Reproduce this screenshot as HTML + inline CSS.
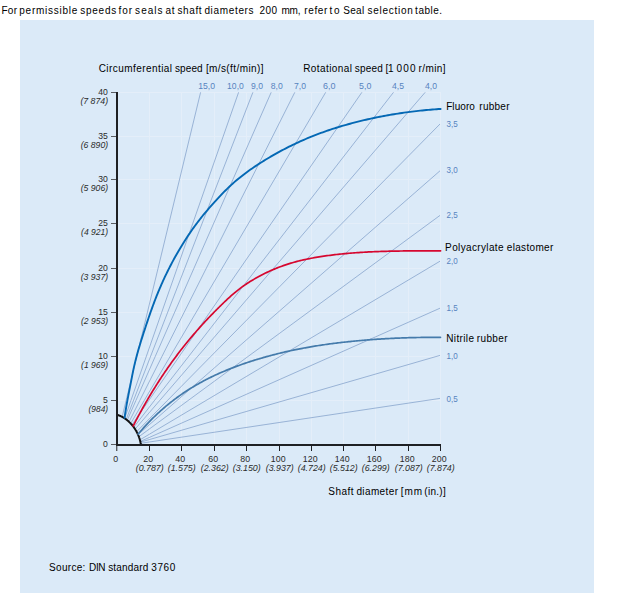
<!DOCTYPE html>
<html><head><meta charset="utf-8"><style>
html,body{margin:0;padding:0;background:#fff;}
body{width:624px;height:613px;overflow:hidden;position:relative;}
svg{position:absolute;left:0;top:0;display:block;}
text{font-family:"Liberation Sans",sans-serif;}
.ax text{font-size:9.6px;fill:#2a2a2a;}
.ax text.it{font-style:italic;font-size:9.6px;}
.rl text{font-size:9.6px;fill:#5783bf;}
.lb text{font-size:10px;fill:#000;}
.lb text.top{font-size:10px;}
</style></head><body>
<svg width="624" height="613" viewBox="0 0 624 613">
<rect x="20" y="20" width="574" height="573" fill="#dbeaf8"/>
<g fill="#e4eef9"><rect x="149" y="92" width="1" height="352"/><rect x="181" y="92" width="1" height="352"/><rect x="214" y="92" width="1" height="352"/><rect x="246" y="92" width="1" height="352"/><rect x="279" y="92" width="1" height="352"/><rect x="311" y="92" width="1" height="352"/><rect x="343" y="92" width="1" height="352"/><rect x="375" y="92" width="1" height="352"/><rect x="408" y="92" width="1" height="352"/><rect x="440" y="92" width="1" height="352"/><rect x="118" y="92" width="323" height="1"/><rect x="118" y="136" width="323" height="1"/><rect x="118" y="179" width="323" height="1"/><rect x="118" y="223" width="323" height="1"/><rect x="118" y="268" width="323" height="1"/><rect x="118" y="312" width="323" height="1"/><rect x="118" y="356" width="323" height="1"/><rect x="118" y="400" width="323" height="1"/></g>
<g stroke="#7494c3" stroke-width="0.65" fill="none"><line x1="122.15" y1="416.86" x2="200.60" y2="92.30"/><line x1="124.66" y1="418.36" x2="238.60" y2="92.30"/><line x1="126.17" y1="419.42" x2="252.90" y2="92.30"/><line x1="127.23" y1="420.25" x2="271.20" y2="92.30"/><line x1="129.07" y1="421.84" x2="294.80" y2="92.30"/><line x1="130.68" y1="423.46" x2="325.70" y2="92.30"/><line x1="131.95" y1="424.87" x2="361.90" y2="92.30"/><line x1="133.77" y1="427.18" x2="393.50" y2="92.30"/><line x1="135.08" y1="429.11" x2="425.20" y2="92.30"/><line x1="136.61" y1="431.72" x2="440.00" y2="124.00"/><line x1="138.02" y1="434.60" x2="440.00" y2="170.80"/><line x1="138.87" y1="436.73" x2="440.00" y2="215.40"/><line x1="139.88" y1="439.88" x2="440.00" y2="261.20"/><line x1="140.28" y1="441.47" x2="440.00" y2="308.20"/><line x1="140.43" y1="442.17" x2="440.00" y2="355.40"/><line x1="140.65" y1="443.30" x2="440.00" y2="398.40"/></g>
<path d="M117.18,414.79 L117.34,414.84 L117.50,414.89 L117.66,414.95 L117.81,415.00 L117.97,415.05 L118.13,415.11 L118.29,415.16 L118.44,415.22 L118.60,415.27 L118.76,415.33 L118.91,415.39 L119.07,415.45 L119.22,415.51 L119.38,415.57 L119.53,415.64 L119.69,415.70 L119.84,415.76 L119.99,415.83 L120.15,415.90 L120.30,415.96 L120.45,416.03 L120.60,416.10 L120.75,416.17 L120.90,416.24 L121.05,416.31 L121.20,416.38 L121.35,416.46 L121.50,416.53 L121.65,416.61 L121.80,416.68 L121.95,416.76 L122.10,416.84 L122.24,416.91 L122.39,416.99 L122.54,417.07 L122.68,417.15 L122.83,417.24 L122.97,417.32 L123.12,417.40 L123.26,417.48 L123.40,417.57 L123.55,417.66 L123.69,417.74 L123.83,417.83 L123.97,417.92 L124.12,418.01 L124.26,418.10 L124.40,418.19 L124.54,418.28 L124.68,418.37 L124.82,418.46 L124.96,418.56 L125.09,418.65 L125.23,418.74 L125.37,418.84 L125.51,418.94 L125.64,419.03 L125.78,419.13 L125.92,419.23 L126.05,419.33 L126.18,419.43 L126.32,419.53 L126.45,419.63 L126.59,419.73 L126.72,419.84 L126.85,419.94 L126.98,420.05 L127.11,420.15 L127.24,420.26 L127.38,420.36 L127.51,420.47 L127.63,420.58 L127.76,420.69 L127.89,420.79 L128.02,420.90 L128.15,421.01 L128.27,421.13 L128.40,421.24 L128.53,421.35 L128.65,421.46 L128.78,421.58 L128.90,421.69 L129.02,421.81 L129.15,421.92 L129.27,422.04 L129.39,422.15 L129.51,422.27 L129.64,422.39 L129.76,422.51 L129.88,422.63 L130.00,422.75 L130.12,422.87 L130.23,422.99 L130.35,423.11 L130.47,423.23 L130.59,423.35 L130.70,423.48 L130.82,423.60 L130.93,423.73 L131.05,423.85 L131.16,423.98 L131.28,424.10 L131.39,424.23 L131.50,424.36 L131.62,424.48 L131.73,424.61 L131.84,424.74 L131.95,424.87 L132.06,425.00 L132.17,425.13 L132.28,425.26 L132.38,425.39 L132.49,425.52 L132.60,425.66 L132.71,425.79 L132.81,425.92 L132.92,426.06 L133.02,426.19 L133.13,426.33 L133.23,426.46 L133.33,426.60 L133.43,426.73 L133.54,426.87 L133.64,427.01 L133.74,427.14 L133.84,427.28 L133.94,427.42 L134.04,427.56 L134.14,427.70 L134.23,427.84 L134.33,427.98 L134.43,428.12 L134.52,428.26 L134.62,428.40 L134.71,428.54 L134.81,428.69 L134.90,428.83 L134.99,428.97 L135.08,429.12 L135.18,429.26 L135.27,429.40 L135.36,429.55 L135.45,429.69 L135.54,429.84 L135.62,429.99 L135.71,430.13 L135.80,430.28 L135.89,430.42 L135.97,430.57 L136.06,430.72 L136.14,430.87 L136.23,431.02 L136.31,431.16 L136.39,431.31 L136.47,431.46 L136.56,431.61 L136.64,431.76 L136.72,431.91 L136.80,432.06 L136.87,432.21 L136.95,432.36 L137.03,432.52 L137.11,432.67 L137.18,432.82 L137.26,432.97 L137.33,433.12 L137.41,433.28 L137.48,433.43 L137.55,433.58 L137.63,433.74 L137.70,433.89 L137.77,434.05 L137.84,434.20 L137.91,434.36 L137.98,434.51 L138.04,434.67 L138.11,434.82 L138.18,434.98 L138.24,435.13 L138.31,435.29 L138.37,435.44 L138.44,435.60 L138.50,435.76 L138.56,435.91 L138.62,436.07 L138.69,436.23 L138.75,436.39 L138.81,436.54 L138.86,436.70 L138.92,436.86 L138.98,437.02 L139.04,437.18 L139.09,437.34 L139.15,437.50 L139.20,437.65 L139.26,437.81 L139.31,437.97 L139.36,438.13 L139.41,438.29 L139.46,438.45 L139.51,438.61 L139.56,438.77 L139.61,438.93 L139.66,439.09 L139.71,439.25 L139.75,439.41 L139.80,439.57 L139.85,439.73 L139.89,439.89 L139.93,440.06 L139.98,440.22 L140.02,440.38 L140.06,440.54 L140.10,440.70 L140.14,440.86 L140.18,441.02 L140.22,441.18 L140.25,441.35 L140.29,441.51 L140.33,441.67 L140.36,441.83 L140.40,441.99 L140.43,442.15 L140.46,442.32 L140.49,442.48 L140.53,442.64 L140.56,442.80 L140.59,442.96 L140.61,443.13 L140.64,443.29 L140.67,443.45 L140.70,443.61 L140.72,443.77 L140.75,443.94 L140.77,444.10 L140.79,444.26 L140.82,444.42 L140.84,444.58 L140.86,444.75" stroke="#111" stroke-width="2" fill="none"/>
<g fill="#5a5d62"><rect x="111" y="92" width="5" height="1"/><rect x="111" y="136" width="5" height="1"/><rect x="111" y="179" width="5" height="1"/><rect x="111" y="223" width="5" height="1"/><rect x="111" y="268" width="5" height="1"/><rect x="111" y="312" width="5" height="1"/><rect x="111" y="356" width="5" height="1"/><rect x="111" y="400" width="5" height="1"/><rect x="111" y="444" width="5" height="1"/><rect x="116" y="446" width="1.4" height="5"/></g>
<g fill="#1e2024"><rect x="149" y="446" width="1" height="5"/><rect x="181" y="446" width="1" height="5"/><rect x="214" y="446" width="1" height="5"/><rect x="246" y="446" width="1" height="5"/><rect x="279" y="446" width="1" height="5"/><rect x="311" y="446" width="1" height="5"/><rect x="343" y="446" width="1" height="5"/><rect x="375" y="446" width="1" height="5"/><rect x="408" y="446" width="1" height="5"/><rect x="440" y="446" width="1" height="5"/><rect x="116" y="92" width="2" height="354"/><rect x="116" y="444" width="325" height="2"/></g>
<path d="M124.57,417.79 L124.85,415.77 L125.15,413.75 L125.46,411.74 L125.78,409.73 L126.11,407.71 L126.46,405.70 L126.81,403.69 L127.18,401.69 L127.55,399.68 L127.92,397.67 L128.31,395.67 L128.69,393.66 L129.08,391.66 L129.47,389.65 L129.87,387.65 L130.26,385.64 L130.65,383.63 L131.04,381.63 L131.43,379.62 L131.82,377.61 L132.20,375.61 L132.59,373.60 L132.99,371.60 L133.41,369.60 L133.84,367.61 L134.29,365.62 L134.76,363.63 L135.24,361.65 L135.73,359.68 L136.24,357.70 L136.76,355.73 L137.30,353.77 L137.85,351.81 L138.40,349.85 L138.97,347.89 L139.55,345.94 L140.14,343.98 L140.73,342.03 L141.33,340.08 L141.94,338.14 L142.56,336.19 L143.18,334.25 L143.81,332.30 L144.44,330.36 L145.07,328.42 L145.71,326.48 L146.35,324.54 L147.00,322.60 L147.65,320.66 L148.31,318.72 L148.97,316.78 L149.64,314.85 L150.31,312.92 L150.99,310.99 L151.68,309.07 L152.38,307.14 L153.08,305.23 L153.79,303.31 L154.51,301.40 L155.24,299.49 L155.98,297.58 L156.73,295.69 L157.49,293.79 L158.26,291.90 L159.05,290.01 L159.84,288.14 L160.65,286.26 L161.46,284.39 L162.29,282.53 L163.13,280.67 L163.99,278.82 L164.85,276.97 L165.72,275.13 L166.61,273.29 L167.51,271.46 L168.42,269.64 L169.34,267.82 L170.27,266.00 L171.21,264.20 L172.17,262.39 L173.13,260.60 L174.11,258.81 L175.10,257.02 L176.10,255.24 L177.11,253.47 L178.13,251.70 L179.16,249.94 L180.21,248.18 L181.26,246.43 L182.33,244.69 L183.41,242.95 L184.49,241.22 L185.60,239.49 L186.71,237.78 L187.83,236.07 L188.97,234.37 L190.12,232.68 L191.28,231.00 L192.45,229.32 L193.63,227.66 L194.83,226.00 L196.04,224.36 L197.26,222.72 L198.50,221.09 L199.75,219.48 L201.01,217.87 L202.28,216.28 L203.57,214.70 L204.86,213.13 L206.18,211.57 L207.50,210.02 L208.84,208.49 L210.18,206.96 L211.54,205.43 L212.89,203.91 L214.26,202.40 L215.63,200.88 L217.00,199.37 L218.38,197.87 L219.77,196.37 L221.17,194.88 L222.58,193.40 L224.00,191.94 L225.44,190.49 L226.89,189.05 L228.35,187.63 L229.83,186.22 L231.33,184.84 L232.84,183.47 L234.37,182.13 L235.91,180.80 L237.47,179.49 L239.05,178.19 L240.64,176.92 L242.24,175.66 L243.86,174.41 L245.49,173.19 L247.13,171.97 L248.79,170.78 L250.45,169.59 L252.13,168.43 L253.81,167.27 L255.51,166.13 L257.21,165.00 L258.92,163.89 L260.65,162.79 L262.37,161.70 L264.11,160.62 L265.85,159.55 L267.60,158.50 L269.36,157.45 L271.12,156.42 L272.89,155.40 L274.66,154.39 L276.45,153.39 L278.23,152.40 L280.03,151.42 L281.82,150.46 L283.63,149.51 L285.44,148.57 L287.26,147.64 L289.08,146.72 L290.91,145.81 L292.74,144.92 L294.58,144.04 L296.43,143.17 L298.28,142.31 L300.13,141.46 L302.00,140.63 L303.86,139.81 L305.74,139.00 L307.61,138.20 L309.50,137.42 L311.39,136.65 L313.28,135.89 L315.18,135.14 L317.08,134.41 L318.99,133.68 L320.90,132.97 L322.82,132.28 L324.74,131.59 L326.67,130.92 L328.60,130.26 L330.54,129.60 L332.48,128.97 L334.42,128.34 L336.37,127.72 L338.32,127.12 L340.27,126.52 L342.23,125.94 L344.19,125.36 L346.15,124.80 L348.12,124.25 L350.09,123.71 L352.06,123.18 L354.03,122.65 L356.01,122.14 L357.99,121.64 L359.97,121.15 L361.95,120.66 L363.94,120.19 L365.93,119.72 L367.92,119.27 L369.91,118.82 L371.90,118.39 L373.90,117.96 L375.90,117.55 L377.90,117.14 L379.90,116.74 L381.90,116.35 L383.91,115.97 L385.91,115.60 L387.92,115.24 L389.93,114.89 L391.95,114.55 L393.96,114.21 L395.97,113.89 L397.99,113.57 L400.01,113.26 L402.03,112.96 L404.05,112.68 L406.07,112.39 L408.09,112.12 L410.12,111.86 L412.14,111.60 L414.17,111.36 L416.20,111.12 L418.23,110.89 L420.26,110.67 L422.29,110.46 L424.32,110.26 L426.35,110.06 L428.38,109.88 L430.42,109.70 L432.45,109.53 L434.49,109.37 L436.52,109.21 L438.56,109.07 L440.60,108.93" stroke="#0468b4" stroke-width="1.9" fill="none" stroke-linecap="round"/>
<path d="M133.22,425.91 L133.95,424.49 L134.69,423.06 L135.42,421.64 L136.17,420.22 L136.91,418.80 L137.66,417.38 L138.42,415.96 L139.18,414.55 L139.94,413.14 L140.71,411.73 L141.48,410.33 L142.25,408.92 L143.04,407.52 L143.82,406.13 L144.61,404.73 L145.40,403.34 L146.20,401.95 L147.00,400.56 L147.81,399.17 L148.62,397.79 L149.44,396.41 L150.26,395.03 L151.08,393.66 L151.91,392.29 L152.75,390.92 L153.59,389.55 L154.43,388.19 L155.28,386.83 L156.13,385.47 L156.99,384.12 L157.85,382.76 L158.71,381.42 L159.58,380.07 L160.46,378.73 L161.34,377.39 L162.22,376.05 L163.11,374.72 L164.01,373.39 L164.90,372.06 L165.81,370.74 L166.72,369.42 L167.63,368.10 L168.55,366.79 L169.47,365.48 L170.39,364.17 L171.33,362.87 L172.26,361.57 L173.20,360.27 L174.15,358.98 L175.10,357.69 L176.05,356.40 L177.02,355.12 L177.98,353.84 L178.95,352.57 L179.93,351.29 L180.91,350.03 L181.89,348.76 L182.88,347.50 L183.87,346.25 L184.87,344.99 L185.88,343.75 L186.89,342.50 L187.90,341.26 L188.92,340.02 L189.94,338.79 L190.97,337.56 L192.01,336.34 L193.05,335.11 L194.09,333.90 L195.14,332.68 L196.19,331.48 L197.25,330.27 L198.31,329.07 L199.38,327.87 L200.45,326.68 L201.53,325.49 L202.61,324.30 L203.69,323.12 L204.78,321.94 L205.87,320.77 L206.97,319.60 L208.07,318.43 L209.18,317.27 L210.29,316.11 L211.40,314.96 L212.52,313.81 L213.64,312.66 L214.76,311.52 L215.89,310.38 L217.03,309.24 L218.16,308.11 L219.30,306.98 L220.44,305.86 L221.59,304.74 L222.74,303.62 L223.89,302.51 L225.05,301.40 L226.22,300.30 L227.39,299.21 L228.56,298.12 L229.75,297.04 L230.94,295.97 L232.13,294.92 L233.34,293.87 L234.56,292.83 L235.79,291.81 L237.02,290.80 L238.27,289.81 L239.53,288.83 L240.81,287.87 L242.10,286.92 L243.40,285.99 L244.71,285.08 L246.03,284.18 L247.37,283.30 L248.71,282.43 L250.07,281.58 L251.44,280.74 L252.81,279.92 L254.20,279.11 L255.59,278.31 L256.99,277.52 L258.39,276.75 L259.81,275.99 L261.23,275.24 L262.66,274.50 L264.09,273.78 L265.53,273.07 L266.98,272.38 L268.43,271.69 L269.89,271.03 L271.36,270.37 L272.83,269.73 L274.31,269.10 L275.80,268.49 L277.28,267.89 L278.78,267.31 L280.28,266.74 L281.78,266.18 L283.29,265.64 L284.81,265.11 L286.33,264.60 L287.85,264.11 L289.38,263.63 L290.91,263.16 L292.45,262.71 L293.99,262.27 L295.53,261.84 L297.08,261.43 L298.63,261.03 L300.19,260.65 L301.74,260.28 L303.30,259.92 L304.87,259.57 L306.43,259.23 L308.00,258.90 L309.57,258.58 L311.15,258.28 L312.72,257.98 L314.30,257.70 L315.88,257.42 L317.46,257.15 L319.04,256.89 L320.63,256.64 L322.21,256.40 L323.80,256.16 L325.39,255.93 L326.97,255.71 L328.56,255.50 L330.15,255.29 L331.74,255.09 L333.33,254.89 L334.93,254.70 L336.52,254.52 L338.11,254.34 L339.70,254.17 L341.30,254.01 L342.89,253.85 L344.49,253.69 L346.08,253.54 L347.68,253.40 L349.28,253.26 L350.87,253.13 L352.47,253.00 L354.07,252.88 L355.67,252.76 L357.26,252.64 L358.86,252.54 L360.46,252.43 L362.06,252.33 L363.66,252.24 L365.26,252.14 L366.86,252.06 L368.47,251.97 L370.07,251.89 L371.67,251.82 L373.27,251.75 L374.87,251.68 L376.47,251.62 L378.08,251.55 L379.68,251.50 L381.28,251.44 L382.89,251.39 L384.49,251.34 L386.09,251.30 L387.70,251.26 L389.30,251.22 L390.90,251.18 L392.51,251.14 L394.11,251.11 L395.72,251.08 L397.32,251.06 L398.93,251.03 L400.53,251.01 L402.13,250.99 L403.74,250.97 L405.34,250.95 L406.95,250.93 L408.55,250.92 L410.15,250.91 L411.76,250.89 L413.36,250.88 L414.96,250.87 L416.57,250.87 L418.17,250.86 L419.78,250.85 L421.38,250.85 L422.98,250.84 L424.58,250.84 L426.19,250.83 L427.79,250.83 L429.39,250.83 L430.99,250.82 L432.59,250.82 L434.19,250.82 L435.80,250.81 L437.40,250.81 L439.00,250.80 L440.60,250.80" stroke="#d6072f" stroke-width="1.7" fill="none" stroke-linecap="round"/>
<path d="M138.13,434.16 L139.02,433.10 L139.91,432.05 L140.81,431.01 L141.71,429.97 L142.62,428.94 L143.54,427.91 L144.46,426.89 L145.39,425.88 L146.32,424.87 L147.26,423.86 L148.21,422.87 L149.16,421.87 L150.12,420.89 L151.09,419.91 L152.06,418.93 L153.03,417.97 L154.02,417.00 L155.01,416.05 L156.00,415.10 L157.00,414.16 L158.00,413.22 L159.02,412.29 L160.03,411.37 L161.06,410.45 L162.08,409.54 L163.12,408.64 L164.16,407.74 L165.20,406.85 L166.25,405.97 L167.31,405.09 L168.37,404.22 L169.44,403.36 L170.51,402.50 L171.59,401.65 L172.67,400.81 L173.76,399.98 L174.86,399.15 L175.95,398.33 L177.06,397.52 L178.17,396.71 L179.28,395.92 L180.40,395.13 L181.53,394.34 L182.66,393.57 L183.79,392.80 L184.93,392.04 L186.08,391.28 L187.23,390.54 L188.38,389.80 L189.54,389.07 L190.70,388.34 L191.87,387.62 L193.04,386.91 L194.22,386.21 L195.40,385.51 L196.58,384.83 L197.77,384.14 L198.96,383.47 L200.16,382.80 L201.36,382.14 L202.57,381.49 L203.78,380.85 L204.99,380.21 L206.21,379.58 L207.43,378.95 L208.65,378.34 L209.88,377.73 L211.11,377.12 L212.34,376.52 L213.58,375.93 L214.82,375.35 L216.06,374.77 L217.31,374.20 L218.56,373.64 L219.82,373.08 L221.07,372.53 L222.33,371.98 L223.59,371.44 L224.86,370.91 L226.13,370.38 L227.40,369.86 L228.67,369.35 L229.95,368.84 L231.22,368.33 L232.50,367.84 L233.79,367.34 L235.07,366.86 L236.36,366.37 L237.65,365.90 L238.94,365.43 L240.24,364.96 L241.53,364.50 L242.83,364.05 L244.13,363.60 L245.43,363.15 L246.73,362.72 L248.04,362.28 L249.34,361.85 L250.65,361.43 L251.96,361.01 L253.27,360.59 L254.58,360.18 L255.90,359.78 L257.21,359.37 L258.53,358.98 L259.84,358.58 L261.16,358.20 L262.48,357.81 L263.80,357.43 L265.12,357.06 L266.44,356.69 L267.77,356.32 L269.09,355.96 L270.42,355.60 L271.74,355.25 L273.07,354.90 L274.40,354.56 L275.73,354.22 L277.06,353.88 L278.39,353.55 L279.72,353.22 L281.06,352.90 L282.39,352.58 L283.73,352.26 L285.06,351.95 L286.40,351.65 L287.74,351.34 L289.08,351.05 L290.42,350.75 L291.76,350.46 L293.10,350.18 L294.44,349.90 L295.78,349.62 L297.13,349.35 L298.47,349.08 L299.82,348.81 L301.16,348.55 L302.51,348.30 L303.86,348.04 L305.21,347.80 L306.55,347.55 L307.90,347.31 L309.26,347.07 L310.61,346.84 L311.96,346.61 L313.31,346.39 L314.66,346.17 L316.02,345.95 L317.37,345.73 L318.73,345.52 L320.08,345.32 L321.44,345.11 L322.80,344.91 L324.16,344.72 L325.51,344.52 L326.87,344.33 L328.23,344.14 L329.59,343.96 L330.95,343.78 L332.31,343.60 L333.67,343.43 L335.03,343.25 L336.40,343.08 L337.76,342.92 L339.12,342.75 L340.48,342.59 L341.85,342.43 L343.21,342.28 L344.57,342.13 L345.94,341.97 L347.30,341.83 L348.67,341.68 L350.03,341.54 L351.40,341.40 L352.77,341.26 L354.13,341.13 L355.50,340.99 L356.87,340.86 L358.23,340.74 L359.60,340.61 L360.97,340.49 L362.34,340.37 L363.70,340.25 L365.07,340.14 L366.44,340.02 L367.81,339.91 L369.18,339.81 L370.55,339.70 L371.92,339.60 L373.29,339.50 L374.66,339.40 L376.03,339.31 L377.40,339.21 L378.77,339.12 L380.14,339.04 L381.51,338.95 L382.88,338.87 L384.25,338.79 L385.62,338.71 L386.99,338.63 L388.36,338.56 L389.74,338.48 L391.11,338.42 L392.48,338.35 L393.85,338.28 L395.22,338.22 L396.59,338.16 L397.97,338.10 L399.34,338.05 L400.71,337.99 L402.08,337.94 L403.46,337.89 L404.83,337.85 L406.20,337.80 L407.57,337.76 L408.94,337.72 L410.32,337.68 L411.69,337.65 L413.06,337.61 L414.43,337.58 L415.80,337.55 L417.18,337.52 L418.55,337.50 L419.92,337.48 L421.29,337.45 L422.66,337.44 L424.04,337.42 L425.41,337.40 L426.78,337.39 L428.15,337.38 L429.52,337.37 L430.89,337.37 L432.27,337.36 L433.64,337.36 L435.01,337.36 L436.38,337.36 L437.75,337.36 L439.12,337.37 L440.49,337.37" stroke="#457bab" stroke-width="1.7" fill="none" stroke-linecap="round"/>
<g class="ax"><text x="107.8" y="94.6" text-anchor="end" textLength="9.6" lengthAdjust="spacingAndGlyphs">40</text><text class="it" x="108.1" y="104.3" text-anchor="end" textLength="27.7" lengthAdjust="spacingAndGlyphs">(7 874)</text><text x="107.8" y="138.6" text-anchor="end" textLength="9.6" lengthAdjust="spacingAndGlyphs">35</text><text class="it" x="108.1" y="148.3" text-anchor="end" textLength="27.4" lengthAdjust="spacingAndGlyphs">(6 890)</text><text x="107.8" y="181.6" text-anchor="end" textLength="9.6" lengthAdjust="spacingAndGlyphs">30</text><text class="it" x="108.1" y="191.3" text-anchor="end" textLength="27.4" lengthAdjust="spacingAndGlyphs">(5 906)</text><text x="107.8" y="225.6" text-anchor="end" textLength="9.6" lengthAdjust="spacingAndGlyphs">25</text><text class="it" x="108.1" y="235.3" text-anchor="end" textLength="27" lengthAdjust="spacingAndGlyphs">(4 921)</text><text x="107.8" y="270.6" text-anchor="end" textLength="9.6" lengthAdjust="spacingAndGlyphs">20</text><text class="it" x="108.1" y="280.3" text-anchor="end" textLength="27.4" lengthAdjust="spacingAndGlyphs">(3 937)</text><text x="107.8" y="314.6" text-anchor="end" textLength="9.6" lengthAdjust="spacingAndGlyphs">15</text><text class="it" x="108.1" y="324.3" text-anchor="end" textLength="27.2" lengthAdjust="spacingAndGlyphs">(2 953)</text><text x="107.8" y="358.6" text-anchor="end" textLength="9.6" lengthAdjust="spacingAndGlyphs">10</text><text class="it" x="108.1" y="368.3" text-anchor="end" textLength="27" lengthAdjust="spacingAndGlyphs">(1 969)</text><text x="107.8" y="402.6" text-anchor="end" textLength="4.8" lengthAdjust="spacingAndGlyphs">5</text><text class="it" x="108.1" y="412.3" text-anchor="end" textLength="19.5" lengthAdjust="spacingAndGlyphs">(984)</text><text x="107.8" y="446.6" text-anchor="end" textLength="4.8" lengthAdjust="spacingAndGlyphs">0</text><text x="115.7" y="461.5" text-anchor="middle" textLength="4.9" lengthAdjust="spacingAndGlyphs">0</text><text x="148.2" y="461.5" text-anchor="middle" textLength="9.8" lengthAdjust="spacingAndGlyphs">20</text><text class="it" x="149.7" y="471.3" text-anchor="middle" textLength="28" lengthAdjust="spacingAndGlyphs">(0.787)</text><text x="180.2" y="461.5" text-anchor="middle" textLength="9.8" lengthAdjust="spacingAndGlyphs">40</text><text class="it" x="181.7" y="471.3" text-anchor="middle" textLength="28" lengthAdjust="spacingAndGlyphs">(1.575)</text><text x="213.2" y="461.5" text-anchor="middle" textLength="9.8" lengthAdjust="spacingAndGlyphs">60</text><text class="it" x="214.7" y="471.3" text-anchor="middle" textLength="28" lengthAdjust="spacingAndGlyphs">(2.362)</text><text x="245.2" y="461.5" text-anchor="middle" textLength="9.8" lengthAdjust="spacingAndGlyphs">80</text><text class="it" x="246.7" y="471.3" text-anchor="middle" textLength="28" lengthAdjust="spacingAndGlyphs">(3.150)</text><text x="278.2" y="461.5" text-anchor="middle" textLength="14.7" lengthAdjust="spacingAndGlyphs">100</text><text class="it" x="279.7" y="471.3" text-anchor="middle" textLength="28" lengthAdjust="spacingAndGlyphs">(3.937)</text><text x="310.2" y="461.5" text-anchor="middle" textLength="14.7" lengthAdjust="spacingAndGlyphs">120</text><text class="it" x="311.7" y="471.3" text-anchor="middle" textLength="28" lengthAdjust="spacingAndGlyphs">(4.724)</text><text x="342.2" y="461.5" text-anchor="middle" textLength="14.7" lengthAdjust="spacingAndGlyphs">140</text><text class="it" x="343.7" y="471.3" text-anchor="middle" textLength="28" lengthAdjust="spacingAndGlyphs">(5.512)</text><text x="374.2" y="461.5" text-anchor="middle" textLength="14.7" lengthAdjust="spacingAndGlyphs">160</text><text class="it" x="375.7" y="471.3" text-anchor="middle" textLength="28" lengthAdjust="spacingAndGlyphs">(6.299)</text><text x="407.2" y="461.5" text-anchor="middle" textLength="14.7" lengthAdjust="spacingAndGlyphs">180</text><text class="it" x="408.7" y="471.3" text-anchor="middle" textLength="28" lengthAdjust="spacingAndGlyphs">(7.087)</text><text x="439.2" y="461.5" text-anchor="middle" textLength="14.7" lengthAdjust="spacingAndGlyphs">200</text><text class="it" x="440.7" y="471.3" text-anchor="middle" textLength="28" lengthAdjust="spacingAndGlyphs">(7.874)</text></g>
<g class="rl"><text x="198.2" y="88.5" textLength="16.8" lengthAdjust="spacingAndGlyphs">15,0</text><text x="227.1" y="88.5" textLength="16.7" lengthAdjust="spacingAndGlyphs">10,0</text><text x="251" y="88.5" textLength="12" lengthAdjust="spacingAndGlyphs">9,0</text><text x="270.8" y="88.5" textLength="12" lengthAdjust="spacingAndGlyphs">8,0</text><text x="294" y="88.5" textLength="12" lengthAdjust="spacingAndGlyphs">7,0</text><text x="323" y="88.5" textLength="12.5" lengthAdjust="spacingAndGlyphs">6,0</text><text x="359" y="88.5" textLength="12.3" lengthAdjust="spacingAndGlyphs">5,0</text><text x="392" y="88.5" textLength="12" lengthAdjust="spacingAndGlyphs">4,5</text><text x="425" y="88.5" textLength="12" lengthAdjust="spacingAndGlyphs">4,0</text><text x="446.6" y="126.9" textLength="11.2" lengthAdjust="spacingAndGlyphs">3,5</text><text x="446.6" y="172.9" textLength="11.2" lengthAdjust="spacingAndGlyphs">3,0</text><text x="446.6" y="217.9" textLength="11.2" lengthAdjust="spacingAndGlyphs">2,5</text><text x="446.6" y="264.4" textLength="11.2" lengthAdjust="spacingAndGlyphs">2,0</text><text x="446.6" y="310.8" textLength="11.2" lengthAdjust="spacingAndGlyphs">1,5</text><text x="446.6" y="358.7" textLength="11.2" lengthAdjust="spacingAndGlyphs">1,0</text><text x="446.6" y="401.8" textLength="11.2" lengthAdjust="spacingAndGlyphs">0,5</text></g>
<g class="lb">
<text x="98.7" y="71.6" textLength="73.4" lengthAdjust="spacing">Circumferential</text><text x="175.0" y="71.6" textLength="27.6" lengthAdjust="spacing">speed</text><text x="205.9" y="71.6" textLength="20.0" lengthAdjust="spacing">[m/s</text><text x="226.3" y="71.6" textLength="37.3" lengthAdjust="spacing">(ft/min)]</text><text x="303.2" y="71.6" textLength="48.7" lengthAdjust="spacing">Rotational</text><text x="354.8" y="71.6" textLength="28.0" lengthAdjust="spacing">speed</text><text x="385.4" y="71.6" textLength="8.2" lengthAdjust="spacing">[1</text><text x="396.4" y="71.6" textLength="19.1" lengthAdjust="spacing">000</text><text x="418.4" y="71.6" textLength="27.2" lengthAdjust="spacing">r/min]</text><text x="446.2" y="109.9" textLength="28.7" lengthAdjust="spacing">Fluoro</text><text x="479.3" y="109.9" textLength="30.2" lengthAdjust="spacing">rubber</text><text x="445.1" y="251.3" textLength="58.4" lengthAdjust="spacing">Polyacrylate</text><text x="506.8" y="251.3" textLength="46.5" lengthAdjust="spacing">elastomer</text><text x="446.2" y="341.9" textLength="27.8" lengthAdjust="spacing">Nitrile</text><text x="476.8" y="341.9" textLength="30.7" lengthAdjust="spacing">rubber</text><text x="328.3" y="495.4" textLength="25.3" lengthAdjust="spacing">Shaft</text><text x="356.4" y="495.4" textLength="41.6" lengthAdjust="spacing">diameter</text><text x="400.7" y="495.4" textLength="21.4" lengthAdjust="spacing">[mm</text><text x="424.3" y="495.4" textLength="21.4" lengthAdjust="spacing">(in.)]</text><text x="49.1" y="570.5" textLength="36.3" lengthAdjust="spacing">Source:</text><text x="89.1" y="570.5" textLength="16.5" lengthAdjust="spacing">DIN</text><text x="108.2" y="570.5" textLength="40.1" lengthAdjust="spacing">standard</text><text x="151.3" y="570.5" textLength="24.0" lengthAdjust="spacing">3760</text>
<text class="top" x="1.4" y="13.9" textLength="15.6" lengthAdjust="spacing">For</text><text class="top" x="19.3" y="13.9" textLength="58.1" lengthAdjust="spacing">permissible</text><text class="top" x="80.2" y="13.9" textLength="36.0" lengthAdjust="spacing">speeds</text><text class="top" x="118.6" y="13.9" textLength="13.6" lengthAdjust="spacing">for</text><text class="top" x="135.1" y="13.9" textLength="27.5" lengthAdjust="spacing">seals</text><text class="top" x="165.4" y="13.9" textLength="9.2" lengthAdjust="spacing">at</text><text class="top" x="177.4" y="13.9" textLength="24.2" lengthAdjust="spacing">shaft</text><text class="top" x="204.4" y="13.9" textLength="49.2" lengthAdjust="spacing">diameters</text><text class="top" x="259.4" y="13.9" textLength="17.6" lengthAdjust="spacing">200</text><text class="top" x="281.4" y="13.9" textLength="19.2" lengthAdjust="spacing">mm,</text><text class="top" x="304.2" y="13.9" textLength="23.2" lengthAdjust="spacing">refer</text><text class="top" x="329.4" y="13.9" textLength="10.1" lengthAdjust="spacing">to</text><text class="top" x="343.2" y="13.9" textLength="21.0" lengthAdjust="spacing">Seal</text><text class="top" x="367.4" y="13.9" textLength="45.4" lengthAdjust="spacing">selection</text><text class="top" x="415.1" y="13.9" textLength="27.0" lengthAdjust="spacing">table.</text>
</g>
</svg>
</body></html>
